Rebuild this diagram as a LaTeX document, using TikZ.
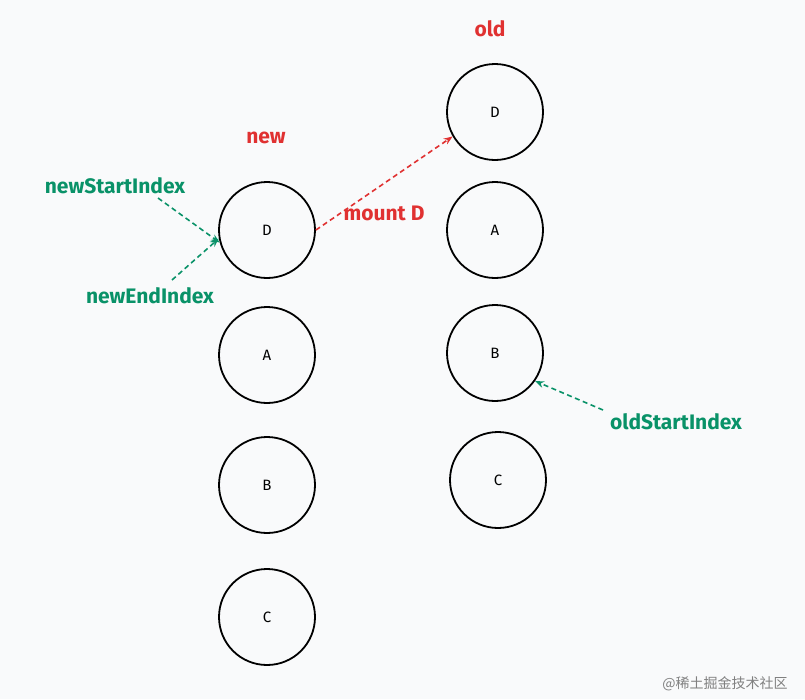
\documentclass[tikz,border=0pt]{standalone}
\usepackage{fontspec}
\setmainfont{Fira Sans}
\newfontfamily\cjk{Noto Sans CJK SC}
\usetikzlibrary{arrows.meta}
\definecolor{bgc}{HTML}{F9FAFB}
\definecolor{redc}{HTML}{E03131}
\definecolor{greenc}{HTML}{099268}
\tikzset{
  item/.style={circle,draw,line width=1.8pt,minimum size=96pt,inner sep=0pt,font=\fontsize{15}{18}\selectfont},
  tag/.style={font=\fontsize{21}{25}\selectfont\bfseries},
  link/.style={dash pattern=on 5pt off 3.5pt,line width=1.6pt,-{Stealth[length=9pt]}}
}
\begin{document}
\begin{tikzpicture}[x=1pt,y=-1pt]
    \fill[bgc] (0,0) rectangle (805,699);
    \useasboundingbox (0,0) rectangle (805,699);
    % new list
    \node[item] (nD) at (267,230) {D};
    \node[item] (nA) at (267,355) {A};
    \node[item] (nB) at (267,485) {B};
    \node[item] (nC) at (267,617) {C};
    % old list
    \node[item] (oD) at (495,112) {D};
    \node[item] (oA) at (495,230) {A};
    \node[item] (oB) at (495,353) {B};
    \node[item] (oC) at (498,480) {C};
    % labels
    \node[tag,text=redc] (newl) at (266,138) {new};
    \node[tag,text=redc] (oldl) at (490,29) {old};
    \node[tag,text=redc] (mnt) at (384,213) {mount D};
    \node[tag,text=greenc] (nsi) at (115,186) {newStartIndex};
    \node[tag,text=greenc] (nei) at (150,296) {newEndIndex};
    \node[tag,text=greenc] (osi) at (676,422) {oldStartIndex};
    \node[text=gray,font=\cjk\fontsize{14}{16}\selectfont] (wm) at (725,684) {@稀土掘金技术社区};
    % arrows
    \draw[link,redc] (nD.east) -- (oD.210);
    \draw[link,greenc] (158,198) -- (nD.195);
    \draw[link,greenc] (172,280) -- (nD.190);
    \draw[link,greenc] (603,410) -- (oB.-35);
\end{tikzpicture}
\end{document}
